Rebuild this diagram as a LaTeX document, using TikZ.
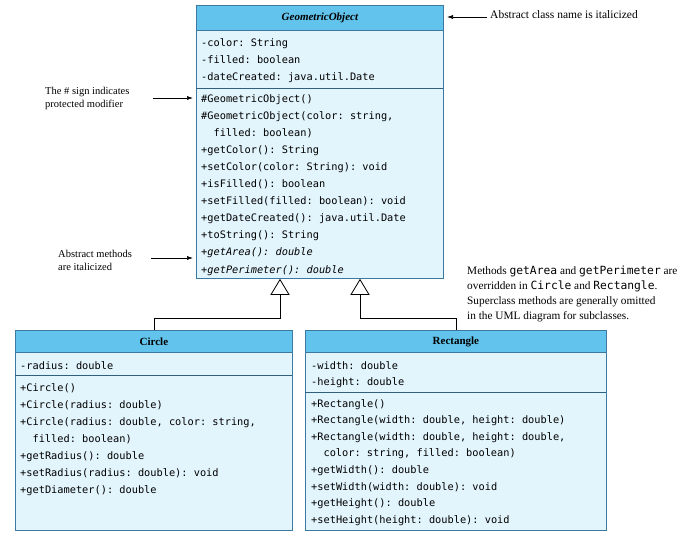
\documentclass[tikz,border=0pt]{standalone}
\usepackage{fontspec}
\setmainfont{Liberation Serif}
\setmonofont{DejaVu Sans Mono}
\usetikzlibrary{arrows.meta}
\definecolor{hdr}{RGB}{98,196,236}
\definecolor{bdy}{RGB}{226,244,252}
\definecolor{edge}{RGB}{60,120,160}
\tikzset{
  box/.style={draw=edge, fill=bdy, line width=0.8pt, anchor=north west, inner sep=0pt},
  head/.style={draw=edge, fill=hdr, line width=0.8pt, anchor=north west, inner sep=0pt, font=\fontsize{11}{12}\selectfont\bfseries},
  sep/.style={draw=edge!80!black, line width=0.8pt},
  txt/.style={anchor=north west, inner sep=0pt, align=left, font=\fontsize{10.3}{17.1}\ttfamily\selectfont},
  note/.style={anchor=north west, inner sep=0pt, align=left, font=\fontsize{10.5}{13.5}\selectfont},
  inh/.style={line width=0.8pt, -{Triangle[open,length=16pt,width=19pt,line width=0.8pt]}},
  ann/.style={line width=0.6pt, -{Latex[length=6pt,width=4pt]}},
}
\begin{document}
\begin{tikzpicture}[x=1pt, y=-1pt]
\useasboundingbox (0,0) rectangle (700,537);

% GeometricObject
\node[box, minimum width=247pt, minimum height=273pt] (geo) at (196,5) {};
\node[head, minimum width=247pt, minimum height=25pt] (geoh) at (196,5) {\itshape GeometricObject};
\draw[sep] (196,88) -- (443,88);
\node[txt] (geoa) at (201,38) {-color: String\\-filled: boolean\\-dateCreated: java.util.Date};
\node[txt] (geom) at (201,94) {\#GeometricObject()\\\#GeometricObject(color: string,\\\hspace*{1.2em}filled: boolean)\\+getColor(): String\\+setColor(color: String): void\\+isFilled(): boolean\\+setFilled(filled: boolean): void\\+getDateCreated(): java.util.Date\\+toString(): String\\\itshape +getArea(): double\\\itshape +getPerimeter(): double};

% Circle
\node[box, minimum width=277pt, minimum height=200pt] (circ) at (15,330) {};
\node[head, minimum width=277pt, minimum height=22pt] (circh) at (15,330) {Circle};
\draw[sep] (15,375) -- (292,375);
\node[txt] (circa) at (20,361) {-radius: double};
\node[txt] (circm) at (20,383) {+Circle()\\+Circle(radius: double)\\+Circle(radius: double, color: string,\\\hspace*{1.2em}filled: boolean)\\+getRadius(): double\\+setRadius(radius: double): void\\+getDiameter(): double};

% Rectangle
\node[box, minimum width=301pt, minimum height=200pt] (rect) at (305,330) {};
\node[head, minimum width=301pt, minimum height=22pt] (recth) at (305,330) {Rectangle};
\draw[sep] (305,392) -- (606,392);
\node[txt, font=\fontsize{10.3}{16}\ttfamily\selectfont] (recta) at (311,361) {-width: double\\-height: double};
\node[txt, font=\fontsize{10.3}{16.6}\ttfamily\selectfont] (rectm) at (311,399) {+Rectangle()\\+Rectangle(width: double, height: double)\\+Rectangle(width: double, height: double,\\\hspace*{1.2em}color: string, filled: boolean)\\+getWidth(): double\\+setWidth(width: double): void\\+getHeight(): double\\+setHeight(height: double): void};

% inheritance
\coordinate (t1) at (280,318);
\coordinate (t2) at (360,318);
\draw[inh] (circ.north) |- (t1) -- (t1 |- geo.south);
\draw[inh] (rect.north) |- (t2) -- (t2 |- geo.south);

% annotations
\node[note, font=\fontsize{11.5}{13.5}\selectfont] (n1) at (490,10) {Abstract class name is italicized};
\coordinate (n1a) at (487,17);
\coordinate (n1b) at (447,17);
\draw[ann] (n1a) -- (n1b);
\node[note] (n2) at (45,87) {The \# sign indicates\\protected modifier};
\coordinate (n2a) at (153,98);
\coordinate (n2b) at (193,98);
\draw[ann] (n2a) -- (n2b);
\node[note] (n3) at (58,250) {Abstract methods\\are italicized};
\coordinate (n3a) at (151,258);
\coordinate (n3b) at (193,258);
\draw[ann] (n3a) -- (n3b);
\node[note, font=\fontsize{11.3}{15}\selectfont] (n4) at (467,266) {Methods \texttt{getArea} and \texttt{getPerimeter} are\\overridden in \texttt{Circle} and \texttt{Rectangle}.\\Superclass methods are generally omitted\\in the UML diagram for subclasses.};
\end{tikzpicture}
\end{document}
